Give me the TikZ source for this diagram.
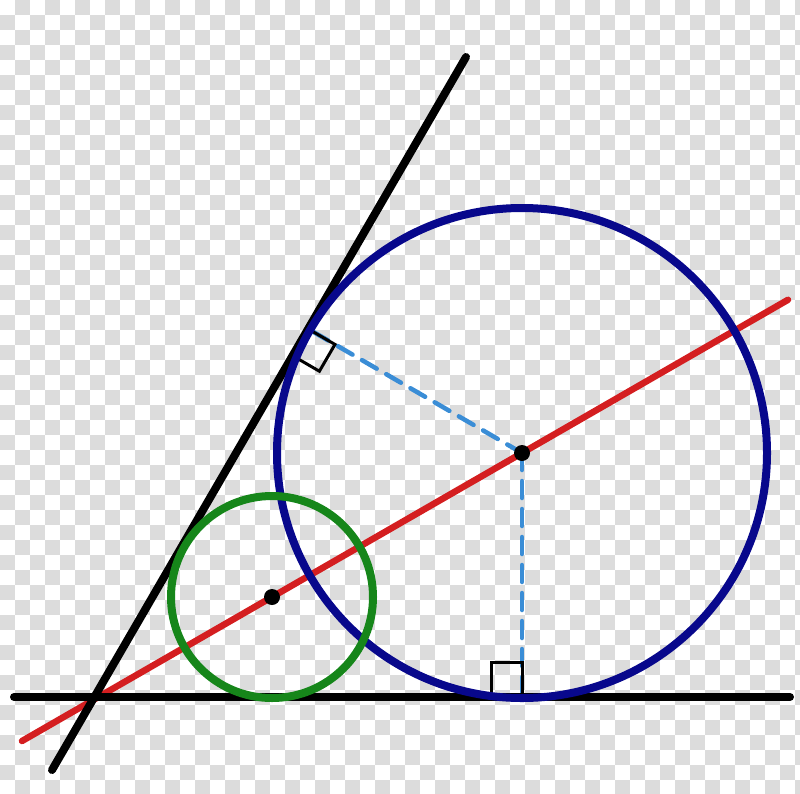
\documentclass[tikz,border=0pt]{standalone}
\usetikzlibrary{calc}
\definecolor{checkgray}{RGB}{220,220,220}
\definecolor{navyblue}{RGB}{8,8,140}
\definecolor{greencirc}{RGB}{22,134,26}
\definecolor{redline}{RGB}{212,30,32}
\definecolor{dashblue}{RGB}{58,141,214}
\tikzset{
  blackline/.style={line width=8pt, black, line cap=round},
  redstyle/.style={line width=6.5pt, redline, line cap=round},
  bluecircle/.style={line width=8pt, navyblue},
  greencircle/.style={line width=8pt, greencirc},
  dashradius/.style={line width=4.5pt, dashblue, dash pattern=on 17pt off 11pt, line cap=round},
  rightmark/.style={line width=3pt, black},
  centerdot/.style={fill=black}
}
\begin{document}
\begin{tikzpicture}[x=1pt,y=-1pt]
\useasboundingbox (0,0) rectangle (800,793);
\begin{scope}
\clip (0,0) rectangle (800,793);
\fill[white] (0,0) rectangle (800,793);
\foreach \i in {0,...,53}{
  \foreach \j in {0,...,52}{
    \ifodd\numexpr\i+\j\relax
      \fill[checkgray] (\i*15,\j*15) rectangle ++(15,15);
    \fi
  }
}
\end{scope}
% key points
\coordinate (H1) at (14,697);
\coordinate (H2) at (790,697);
\coordinate (A1) at (52,770);
\coordinate (A2) at (466,57);
\coordinate (C) at (522,453);
\coordinate (G) at (272,597);
\coordinate (P) at ($(A1)!(C)!(A2)$);
\coordinate (Q) at ($(H1)!(C)!(H2)$);
\coordinate (R1) at ($(G)!-1.0!(C)$);
\coordinate (R2) at ($(G)!2.064!(C)$);
% dashed radii
\draw[dashradius] (C) -- (P);
\draw[dashradius] (C) -- (Q);
% right-angle markers
\coordinate (Pa) at ($(P)!31pt!(C)$);
\coordinate (Pb) at ($(P)!31pt!(A1)$);
\draw[rightmark] (P) -- (Pa) -- ($(Pa)+(Pb)-(P)$) -- (Pb);
\draw[rightmark] (Q) ++(0,-1) -- ++(0,-34) -- ++(-31,0) -- ++(0,34);
% red bisector
\draw[redstyle] (R1) -- (R2);
% black lines
\draw[blackline] (H1) -- (H2);
\draw[blackline] (A1) -- (A2);
% circles
\draw[bluecircle] (C) circle (245);
\draw[greencircle] (G) circle (101);
% centres
\fill[centerdot] (C) circle (8);
\fill[centerdot] (G) circle (8);
\end{tikzpicture}
\end{document}
